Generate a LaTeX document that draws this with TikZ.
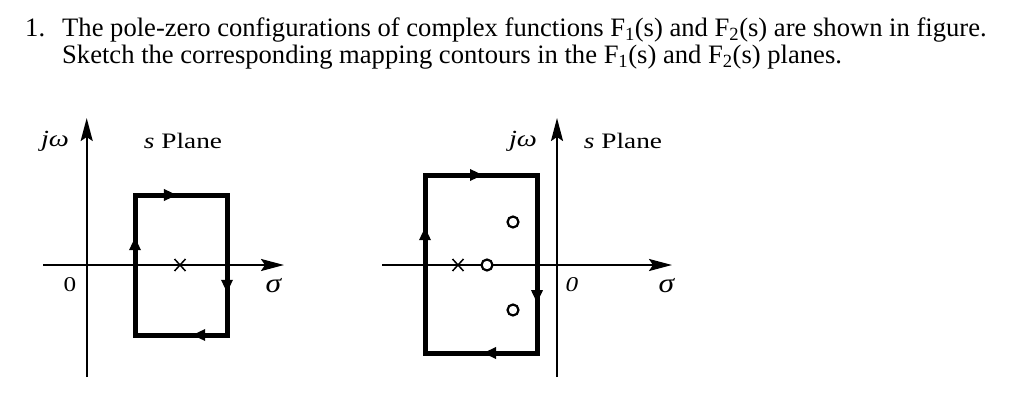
\documentclass[tikz,border=0pt]{standalone}
\usepackage{fontspec}
\setmainfont{Liberation Serif}
\usetikzlibrary{arrows.meta,decorations.markings,calc}
\tikzset{tri/.tip={Triangle[length=13pt,width=11pt]}}
\begin{document}
\begin{tikzpicture}[x=1pt,y=-1pt,
  title/.style={anchor=base west,inner sep=0pt,font=\fontsize{26.6}{30}\selectfont},
  axis/.style={line width=2.2pt,-{Stealth[length=23pt,width=12pt,inset=4pt]}},
  contour/.style={line width=5pt,line join=miter},
  lbl/.style={inner sep=0pt,font=\fontsize{21}{24}\selectfont},
  pole/.style={line width=1.5pt},
  zero/.style={circle,draw,line width=2.2pt,minimum size=11pt,inner sep=0pt,fill=white}
]
\useasboundingbox (0,0) rectangle (1024,401);
\fill[white] (0,0) rectangle (1024,401);

% title
\node[title] (num) at (25,37) {1.};
\node[title] (line1) at (62,37) {The pole-zero configurations of complex functions F\textsubscript{1}(s) and F\textsubscript{2}(s) are shown in figure.};
\node[title] (line2) at (62,64) {Sketch the corresponding mapping contours in the F\textsubscript{1}(s) and F\textsubscript{2}(s) planes.};

% ---------- left s-plane ----------
\coordinate (hA1) at (43,265);
\coordinate (hB1) at (284,265);
\coordinate (vA1) at (86.7,377);
\coordinate (vB1) at (86.7,118);
\draw[axis] (hA1) -- (hB1);
\draw[axis] (vA1) -- (vB1);
\coordinate (tl1) at (135,195);
\coordinate (tr1) at (227,195);
\coordinate (br1) at (227,335);
\coordinate (bl1) at (135,335);
\draw[contour,postaction={decorate,decoration={markings,
   mark=at position 0.0905 with {\arrow{tri}},
   mark=at position 0.409 with {\arrow{tri}},
   mark=at position 0.575 with {\arrow{tri}},
   mark=at position 0.909 with {\arrow{tri}}}}]
  (tl1) -- (tr1) -- (br1) -- (bl1) -- cycle;
\coordinate (p1) at (180,265);
\draw[pole] ($(p1)+(-5.5,-6)$) -- ($(p1)+(5.5,6)$);
\draw[pole] ($(p1)+(-5.5,6)$) -- ($(p1)+(5.5,-6)$);
\node[lbl] (jw1) at (55,141) {\scalebox{1.35}[1.1]{\textit{jω}}};
\node[lbl] (sp1) at (183,141) {\scalebox{1.3}[1.05]{\textit{s} Plane}};
\node[lbl] (o1) at (70,285) {\scalebox{1.2}[1]{0}};
\node[lbl] (sg1) at (274,286) {\scalebox{1.5}[1.3]{\textit{σ}}};

% ---------- right s-plane ----------
\coordinate (hA2) at (382,265);
\coordinate (hB2) at (672,265);
\coordinate (vA2) at (557,377);
\coordinate (vB2) at (557,118);
\draw[axis] (hA2) -- (hB2);
\draw[axis] (vA2) -- (vB2);
\coordinate (tl2) at (425,175);
\coordinate (tr2) at (537,175);
\coordinate (br2) at (537,353);
\coordinate (bl2) at (425,353);
\draw[contour,postaction={decorate,decoration={markings,
   mark=at position 0.100 with {\arrow{tri}},
   mark=at position 0.414 with {\arrow{tri}},
   mark=at position 0.593 with {\arrow{tri}},
   mark=at position 0.910 with {\arrow{tri}}}}]
  (tl2) -- (tr2) -- (br2) -- (bl2) -- cycle;
\coordinate (p2) at (458,265);
\draw[pole] ($(p2)+(-5.5,-6)$) -- ($(p2)+(5.5,6)$);
\draw[pole] ($(p2)+(-5.5,6)$) -- ($(p2)+(5.5,-6)$);
\node[zero] (z1) at (487,265) {};
\node[zero] (z2) at (513,222) {};
\node[zero] (z3) at (513,310) {};
\node[lbl] (jw2) at (523,141) {\scalebox{1.35}[1.1]{\textit{jω}}};
\node[lbl] (sp2) at (623,141) {\scalebox{1.3}[1.05]{\textit{s} Plane}};
\node[lbl] (o2) at (572,285) {\scalebox{1.2}[1]{\textit{0}}};
\node[lbl] (sg2) at (667,286) {\scalebox{1.5}[1.3]{\textit{σ}}};
\end{tikzpicture}
\end{document}
